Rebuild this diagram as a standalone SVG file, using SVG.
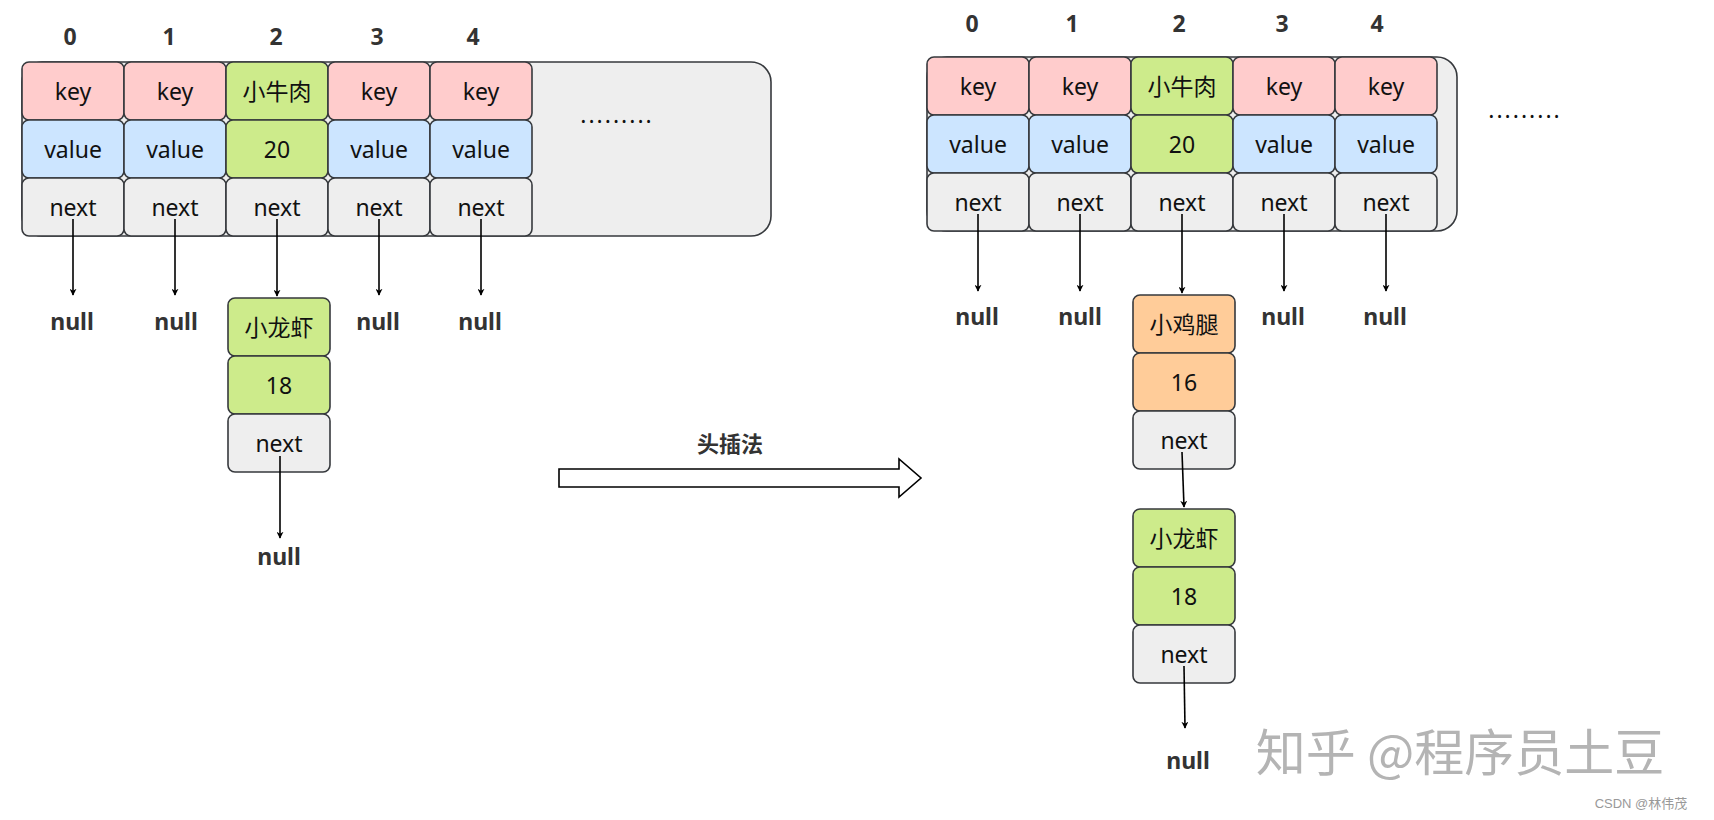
<svg xmlns="http://www.w3.org/2000/svg" width="1714" height="820" viewBox="0 0 1714 820">
<style>
text{font-family:"Noto Sans","Noto Sans CJK SC",sans-serif;text-anchor:middle;dominant-baseline:central;fill:#111}
.c{stroke:#36393d;stroke-width:1.6}
.k{fill:#ffcccc}.v{fill:#cce5ff}.g{fill:#cdeb8b}.n{fill:#eeeeee}.o{fill:#ffcc99}
.t{font-size:23px}
.b{font-size:23px;font-weight:bold;fill:#333}
.ln{stroke:#000;stroke-width:1.6;fill:none;marker-end:url(#ah)}
</style>
<defs>
<marker id="ah" viewBox="0 0 10 10" refX="9" refY="5" markerWidth="7" markerHeight="7" orient="auto" markerUnits="userSpaceOnUse"><path d="M0,0 L10,5 L0,10 L3,5 Z" fill="#000"/></marker>
</defs>
<rect width="1714" height="820" fill="#fff"/>
<!-- Left array -->
<g id="left-array">
<rect x="22" y="62" width="749" height="174" rx="20" fill="#eeeeee" stroke="#36393d" stroke-width="1.6"/>
<text x="70" y="36" class="b">0</text><text x="169" y="36" class="b">1</text><text x="276" y="36" class="b">2</text><text x="377" y="36" class="b">3</text><text x="473" y="36" class="b">4</text>
<text x="617" y="114" class="t" style="letter-spacing:2px">.........</text>
</g>
<g id="l0"><rect class="c k" x="22" y="62" width="102" height="58" rx="7"/><text class="t" x="73" y="91">key</text><rect class="c v" x="22" y="120" width="102" height="58" rx="7"/><text class="t" x="73" y="149">value</text><rect class="c n" x="22" y="178" width="102" height="58" rx="7"/><text class="t" x="73" y="207">next</text></g>
<g id="l1"><rect class="c k" x="124" y="62" width="102" height="58" rx="7"/><text class="t" x="175" y="91">key</text><rect class="c v" x="124" y="120" width="102" height="58" rx="7"/><text class="t" x="175" y="149">value</text><rect class="c n" x="124" y="178" width="102" height="58" rx="7"/><text class="t" x="175" y="207">next</text></g>
<g id="l2"><rect class="c g" x="226" y="62" width="102" height="58" rx="7"/><text class="t" x="277" y="91">小牛肉</text><rect class="c g" x="226" y="120" width="102" height="58" rx="7"/><text class="t" x="277" y="149">20</text><rect class="c n" x="226" y="178" width="102" height="58" rx="7"/><text class="t" x="277" y="207">next</text></g>
<g id="l3"><rect class="c k" x="328" y="62" width="102" height="58" rx="7"/><text class="t" x="379" y="91">key</text><rect class="c v" x="328" y="120" width="102" height="58" rx="7"/><text class="t" x="379" y="149">value</text><rect class="c n" x="328" y="178" width="102" height="58" rx="7"/><text class="t" x="379" y="207">next</text></g>
<g id="l4"><rect class="c k" x="430" y="62" width="102" height="58" rx="7"/><text class="t" x="481" y="91">key</text><rect class="c v" x="430" y="120" width="102" height="58" rx="7"/><text class="t" x="481" y="149">value</text><rect class="c n" x="430" y="178" width="102" height="58" rx="7"/><text class="t" x="481" y="207">next</text></g>
<g id="l-lobster"><rect class="c g" x="228" y="298" width="102" height="58" rx="7"/><text class="t" x="279" y="327">小龙虾</text><rect class="c g" x="228" y="356" width="102" height="58" rx="7"/><text class="t" x="279" y="385">18</text><rect class="c n" x="228" y="414" width="102" height="58" rx="7"/><text class="t" x="279" y="443">next</text></g>
<g id="l-nulls"><text class="b" x="72" y="321">null</text><text class="b" x="176" y="321">null</text><text class="b" x="378" y="321">null</text><text class="b" x="480" y="321">null</text><text class="b" x="279" y="556">null</text></g>
<!-- Right array -->
<g id="right-array">
<rect x="927" y="57" width="530" height="174" rx="20" fill="#eeeeee" stroke="#36393d" stroke-width="1.6"/>
<text x="972" y="23" class="b">0</text><text x="1072" y="23" class="b">1</text><text x="1179" y="23" class="b">2</text><text x="1282" y="23" class="b">3</text><text x="1377" y="23" class="b">4</text>
<text x="1525" y="109" class="t" style="letter-spacing:2px">.........</text>
</g>
<g id="r0"><rect class="c k" x="927" y="57" width="102" height="58" rx="7"/><text class="t" x="978" y="86">key</text><rect class="c v" x="927" y="115" width="102" height="58" rx="7"/><text class="t" x="978" y="144">value</text><rect class="c n" x="927" y="173" width="102" height="58" rx="7"/><text class="t" x="978" y="202">next</text></g>
<g id="r1"><rect class="c k" x="1029" y="57" width="102" height="58" rx="7"/><text class="t" x="1080" y="86">key</text><rect class="c v" x="1029" y="115" width="102" height="58" rx="7"/><text class="t" x="1080" y="144">value</text><rect class="c n" x="1029" y="173" width="102" height="58" rx="7"/><text class="t" x="1080" y="202">next</text></g>
<g id="r2"><rect class="c g" x="1131" y="57" width="102" height="58" rx="7"/><text class="t" x="1182" y="86">小牛肉</text><rect class="c g" x="1131" y="115" width="102" height="58" rx="7"/><text class="t" x="1182" y="144">20</text><rect class="c n" x="1131" y="173" width="102" height="58" rx="7"/><text class="t" x="1182" y="202">next</text></g>
<g id="r3"><rect class="c k" x="1233" y="57" width="102" height="58" rx="7"/><text class="t" x="1284" y="86">key</text><rect class="c v" x="1233" y="115" width="102" height="58" rx="7"/><text class="t" x="1284" y="144">value</text><rect class="c n" x="1233" y="173" width="102" height="58" rx="7"/><text class="t" x="1284" y="202">next</text></g>
<g id="r4"><rect class="c k" x="1335" y="57" width="102" height="58" rx="7"/><text class="t" x="1386" y="86">key</text><rect class="c v" x="1335" y="115" width="102" height="58" rx="7"/><text class="t" x="1386" y="144">value</text><rect class="c n" x="1335" y="173" width="102" height="58" rx="7"/><text class="t" x="1386" y="202">next</text></g>
<g id="r-drumstick"><rect class="c o" x="1133" y="295" width="102" height="58" rx="7"/><text class="t" x="1184" y="324">小鸡腿</text><rect class="c o" x="1133" y="353" width="102" height="58" rx="7"/><text class="t" x="1184" y="382">16</text><rect class="c n" x="1133" y="411" width="102" height="58" rx="7"/><text class="t" x="1184" y="440">next</text></g>
<g id="r-lobster"><rect class="c g" x="1133" y="509" width="102" height="58" rx="7"/><text class="t" x="1184" y="538">小龙虾</text><rect class="c g" x="1133" y="567" width="102" height="58" rx="7"/><text class="t" x="1184" y="596">18</text><rect class="c n" x="1133" y="625" width="102" height="58" rx="7"/><text class="t" x="1184" y="654">next</text></g>
<g id="r-nulls"><text class="b" x="977" y="316">null</text><text class="b" x="1080" y="316">null</text><text class="b" x="1283" y="316">null</text><text class="b" x="1385" y="316">null</text><text class="b" x="1188" y="760">null</text></g>
<!-- transition arrow -->
<g id="head-insert">
<text class="b" x="730" y="443" style="font-size:22px">头插法</text>
<path d="M559,469 H899 V459 L921,478 L899,497 V487 H559 Z" fill="#fff" stroke="#000" stroke-width="1.6"/>
</g>
<g id="connectors">
<path class="ln" d="M73,219 V295"/><path class="ln" d="M175,219 V295"/><path class="ln" d="M277,219 V296"/><path class="ln" d="M379,219 V295"/><path class="ln" d="M481,219 V295"/>
<path class="ln" d="M280,456 V538"/>
<path class="ln" d="M978,214 V291"/><path class="ln" d="M1080,214 V291"/><path class="ln" d="M1182,214 V293"/><path class="ln" d="M1284,214 V291"/><path class="ln" d="M1386,214 V291"/>
<path class="ln" d="M1182,452 L1184,507"/>
<path class="ln" d="M1184,666 L1185,728"/>
</g>
<g id="watermark">
<text x="1460" y="749" style="font-size:50px;fill:#b4b4b4;font-family:'Noto Sans CJK SC',sans-serif">知乎 @程序员土豆</text>
<text x="1641" y="803" style="font-size:13px;fill:#999;font-family:'Liberation Sans','Noto Sans CJK SC',sans-serif">CSDN @林伟茂</text>
</g>
</svg>
